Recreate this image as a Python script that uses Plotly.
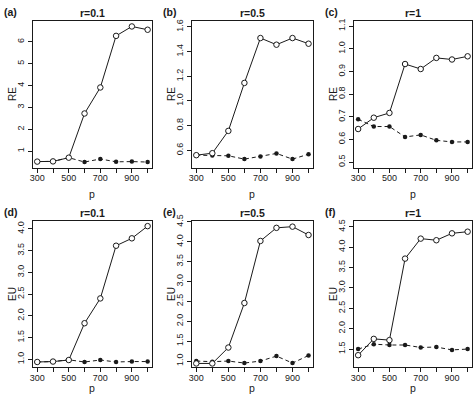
import plotly.graph_objects as go

p = [300, 400, 500, 600, 700, 800, 900, 1000]

re_r01_open = [0.52, 0.53, 0.70, 2.72, 3.91, 6.27, 6.70, 6.55]
re_r01_fill = [0.52, 0.53, 0.70, 0.50, 0.64, 0.51, 0.52, 0.50]
re_r05_open = [0.56, 0.576, 0.757, 1.146, 1.51, 1.456, 1.51, 1.464]
re_r05_fill = [0.56, 0.558, 0.555, 0.528, 0.55, 0.574, 0.528, 0.568]
re_r1_open = [0.646, 0.696, 0.717, 0.933, 0.911, 0.96, 0.953, 0.967]
re_r1_fill = [0.689, 0.657, 0.657, 0.611, 0.62, 0.596, 0.589, 0.589]
eu_r01_open = [0.94, 0.95, 0.985, 1.83, 2.40, 3.61, 3.78, 4.06]
eu_r01_fill = [0.94, 0.95, 0.99, 0.94, 0.985, 0.94, 0.95, 0.95]
eu_r05_open = [0.94, 0.94, 1.34, 2.46, 4.02, 4.35, 4.38, 4.17]
eu_r05_fill = [1.0, 0.985, 1.0, 0.95, 1.0, 1.125, 0.95, 1.14]
eu_r1_open = [1.35, 1.75, 1.72, 3.72, 4.21, 4.17, 4.34, 4.38]
eu_r1_fill = [1.5, 1.62, 1.6, 1.6, 1.54, 1.55, 1.48, 1.5]

panels = [
    ("(a)", "r=0.1", "RE", re_r01_open, re_r01_fill, [0.25, 6.96], [1, 2, 3, 4, 5, 6], ["1", "2", "3", "4", "5", "6"]),
    ("(b)", "r=0.5", "RE", re_r05_open, re_r05_fill, [0.46, 1.65], [0.6, 0.8, 1.0, 1.2, 1.4, 1.6], ["0.6", "0.8", "1.0", "1.2", "1.4", "1.6"]),
    ("(c)", "r=1", "RE", re_r1_open, re_r1_fill, [0.476, 1.124], [0.5, 0.6, 0.7, 0.8, 0.9, 1.0, 1.1], ["0.5", "0.6", "0.7", "0.8", "0.9", "1.0", "1.1"]),
    ("(d)", "r=0.1", "EU", eu_r01_open, eu_r01_fill, [0.815, 4.185], [1.0, 1.5, 2.0, 2.5, 3.0, 3.5, 4.0], ["1.0", "1.5", "2.0", "2.5", "3.0", "3.5", "4.0"]),
    ("(e)", "r=0.5", "EU", eu_r05_open, eu_r05_fill, [0.84, 4.53], [1.0, 1.5, 2.0, 2.5, 3.0, 3.5, 4.0, 4.5], ["1.0", "1.5", "2.0", "2.5", "3.0", "3.5", "4.0", "4.5"]),
    ("(f)", "r=1", "EU", eu_r1_open, eu_r1_fill, [1.05, 4.65], [1.5, 2.0, 2.5, 3.0, 3.5, 4.0, 4.5], ["1.5", "2.0", "2.5", "3.0", "3.5", "4.0", "4.5"]),
]

xticks = [300, 400, 500, 600, 700, 800, 900, 1000]
xtext = ["300", "", "500", "", "700", "", "900", ""]

W, H = 474, 395
cols = [(30, 150), (190, 312), (353, 472)]
rows = [(15, 164), (218, 367)]
p_off = [27, 21]

fig = go.Figure()
font = "Liberation Sans, Arial, sans-serif"
ink = "#1a1a1a"
annotations = []
layout = {}


def ann(text, x, y, size, xanchor="center", angle=0):
    return dict(text=text, x=x / W, y=1 - y / H, xref="paper", yref="paper",
                showarrow=False, xanchor=xanchor, yanchor="middle", textangle=angle,
                font=dict(family=font, size=size, color=ink))


for i, (lab, title, ylab, yo, yf, yr, yt, ytt) in enumerate(panels):
    r, c = divmod(i, 3)
    x0, x1 = cols[c]
    t0, t1 = rows[r]
    xa = "x" if i == 0 else f"x{i+1}"
    ya = "y" if i == 0 else f"y{i+1}"
    xkey = "xaxis" if i == 0 else f"xaxis{i+1}"
    ykey = "yaxis" if i == 0 else f"yaxis{i+1}"
    layout[xkey] = dict(domain=[x0 / W, x1 / W], anchor=ya, range=[272, 1028],
                        tickvals=xticks, ticktext=xtext, ticks="outside", ticklen=4,
                        tickcolor=ink, tickwidth=1, showgrid=False, zeroline=False,
                        showline=True, mirror=True, linecolor=ink, linewidth=1,
                        ticklabelstandoff=-2,
                        tickfont=dict(family=font, size=9, color=ink))
    layout[ykey] = dict(domain=[1 - t1 / H, 1 - t0 / H], anchor=xa, range=yr,
                        tickvals=yt, ticktext=ytt, ticks="outside", ticklen=4,
                        tickcolor=ink, tickwidth=1, showgrid=False, zeroline=False,
                        showline=True, mirror=True, linecolor=ink, linewidth=1,
                        tickangle=-90,
                        tickfont=dict(family=font, size=9, color=ink))
    fig.add_trace(go.Scatter(x=p, y=yf, xaxis=xa, yaxis=ya, mode="lines+markers",
                             line=dict(color=ink, width=1, dash="4px,3px"),
                             marker=dict(symbol="circle", size=4.5, color=ink),
                             showlegend=False))
    fig.add_trace(go.Scatter(x=p, y=yo, xaxis=xa, yaxis=ya, mode="lines+markers",
                             line=dict(color=ink, width=1),
                             marker=dict(symbol="circle", size=5.5, color="white",
                                         line=dict(color=ink, width=1)),
                             showlegend=False))
    cx = (x0 + x1) / 2
    annotations.append(ann(f"<b>{title}</b>", cx, t0 - 8, 10.5))
    annotations.append(ann(f"<b>{lab}</b>", x0 - 31, t0 - 9, 10.5, xanchor="left"))
    annotations.append(ann("p", cx, t1 + p_off[r], 10.5))
    annotations.append(ann(ylab, x0 - 21, (t0 + t1) / 2, 10, angle=-90))

fig.update_layout(width=W, height=H, margin=dict(l=0, r=0, t=0, b=0),
                  paper_bgcolor="white", plot_bgcolor="white",
                  annotations=annotations, **layout)
fig.write_html("out.html", config={"displayModeBar": False},
               post_script="document.body.style.margin='0';document.body.style.overflow='hidden';")
